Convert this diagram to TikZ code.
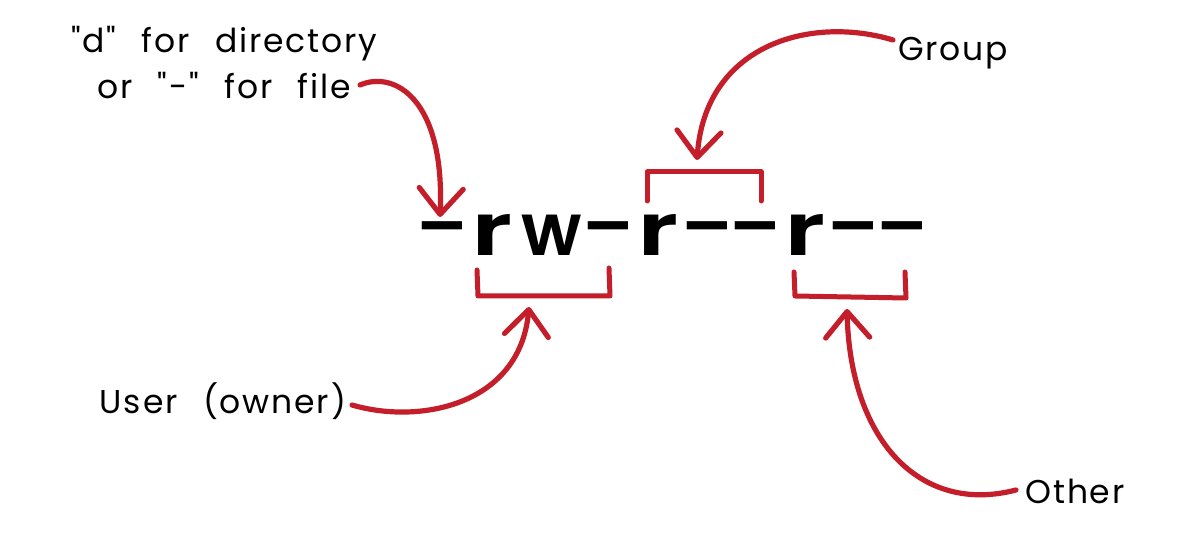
\documentclass[tikz,border=0pt]{standalone}
\usepackage{fontspec}
\usepackage{graphicx}
\usetikzlibrary{arrows.meta}
\newfontfamily\hand[LetterSpace=5.5,WordSpace=2.4]{Poppins}
\newfontfamily\permfont{Poppins SemiBold}
\definecolor{arrowred}{HTML}{C41E2A}
\newcommand{\pr}[1]{\makebox[#1pt][c]{\scalebox{1.4}[1.0]{r}}}
\newcommand{\pw}[1]{\makebox[#1pt][c]{\scalebox{0.98}[1.0]{w}}}
\newcommand{\pd}[1]{\makebox[#1pt][c]{\raisebox{2.6pt}{\scalebox{1.3}[0.95]{-}}}}
\tikzset{
  x=0.5pt,y=-0.5pt,
  label/.style={font=\hand\fontsize{16.5}{18}\selectfont,text=black,inner sep=0pt,align=center},
  curved/.style={draw=arrowred,line width=2.6pt,line cap=round,
     -{Straight Barb[length=13pt,width=22pt,line width=2.6pt,round]}},
  bracket/.style={draw=arrowred,line width=2.5pt,line cap=round,line join=round},
}
\begin{document}
\begin{tikzpicture}
\useasboundingbox[fill=white] (0,0) rectangle (1200,533);
\node[label,anchor=center] (dir) at (224,63) {"d" for directory\\[5pt]or "-" for file};
\node[label,anchor=center] (group) at (953,53) {Group};
\node[label,anchor=center] (user) at (223,401) {User (owner)};
\node[label,anchor=center] (other) at (1075,491) {Other};
\node[anchor=base west,inner sep=0pt,font=\permfont\fontsize{36.5}{40}\selectfont] (perm) at (418,256)
 {\pd{25}\pr{24}\pw{35}\pd{23}\pr{26}\pd{24}\pd{24}\pr{25}\pd{24}\pd{25}};
\coordinate (tipD) at (440,217);
\coordinate (tipG) at (697,160);
\coordinate (tipU) at (529,307);
\coordinate (tipO) at (847,309);
\coordinate (sD) at (360,85);
\coordinate (sG) at (893,40);
\coordinate (sU) at (352,405);
\coordinate (sO) at (1016,490);
\draw[curved] (sD) .. controls (395,70) and (445,100) .. (tipD);
\draw[curved] (sG) .. controls (810,15) and (705,45) .. (tipG);
\draw[curved] (sU) .. controls (420,425) and (520,405) .. (tipU);
\draw[curved] (sO) .. controls (920,515) and (850,440) .. (tipO);
\draw[bracket] (647,201) -- (647,172) -- (761,172) -- (761,201);
\draw[bracket] (477,270) -- (478,296) -- (610,296) -- (609,268);
\draw[bracket] (794,272) -- (795,296) -- (906,298) -- (905,272);
\end{tikzpicture}
\end{document}
